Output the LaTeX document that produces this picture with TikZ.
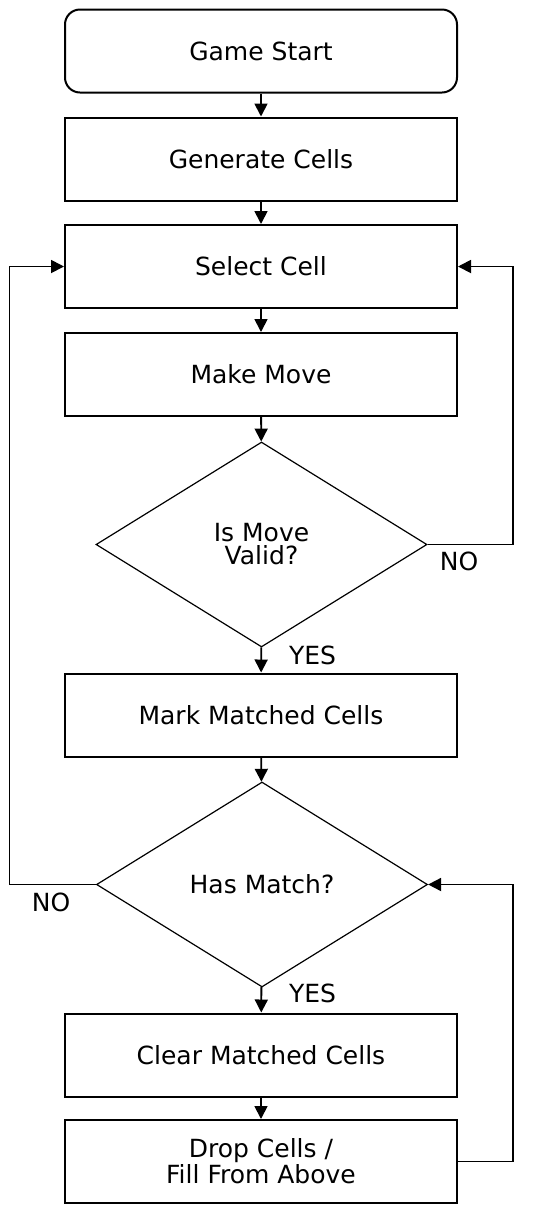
\documentclass[tikz,border=0pt]{standalone}
\usepackage{fontspec}
\setmainfont{DejaVu Sans}
\usetikzlibrary{shapes.geometric,arrows.meta}

\begin{document}
\begin{tikzpicture}[x=0.5pt,y=-0.5pt,
	box/.style={draw, line width=1pt, minimum width=196pt, minimum height=41.5pt, align=center, font=\fontsize{12.5}{12}\selectfont},
	decision/.style={diamond, draw, line width=0.6pt, minimum width=165.5pt, minimum height=102.5pt, inner sep=0pt, align=center, font=\fontsize{12.5}{11.5}\selectfont},
	flow/.style={line width=0.9pt, -{Triangle[length=6.5pt,width=6.5pt]}},
	tag/.style={font=\fontsize{12.5}{12}\selectfont}]
	\useasboundingbox (0,0) rectangle (550,1217);
		\node[box, rounded corners=7.5pt] (start) at (261,51) {Game Start};
		\node[box] (gen) at (261,159) {Generate Cells};
		\node[box] (select) at (261,266.5) {Select Cell};
		\node[box] (move) at (261,374.5) {Make Move};
		\node[decision] (valid) at (261.5,544.5) {Is Move\\Valid?};
		\node[box] (mark) at (261,715) {Mark Matched Cells};
		\node[decision] (match) at (262,884.5) {Has Match?};
		\node[box] (clear) at (261,1055) {Clear Matched Cells};
		\node[box] (drop) at (261,1161.5) {Drop Cells /\\Fill From Above};
		\coordinate (lx) at (9.5,0);
		\coordinate (rx) at (513,0);
		\node[tag] (no1) at (459,561) {NO};
		\node[tag] (yes1) at (312.5,655) {YES};
		\node[tag] (no2) at (51,902) {NO};
		\node[tag] (yes2) at (312.5,993) {YES};
		\draw[flow] (start) -- (gen);
		\draw[flow] (gen) -- (select);
		\draw[flow] (select) -- (move);
		\draw[flow] (move) -- (valid);
		\draw[flow] (valid) -- (mark);
		\draw[flow] (mark) -- (match);
		\draw[flow] (match) -- (clear);
		\draw[flow] (clear) -- (drop);
		\draw[flow] (valid.east) -- (valid.east -| rx) |- (select.east);
		\draw[flow] (match.west) -- (match.west -| lx) |- (select.west);
		\draw[flow] (drop.east) -- (drop.east -| rx) |- (match.east);
	\end{tikzpicture}
\end{document}
